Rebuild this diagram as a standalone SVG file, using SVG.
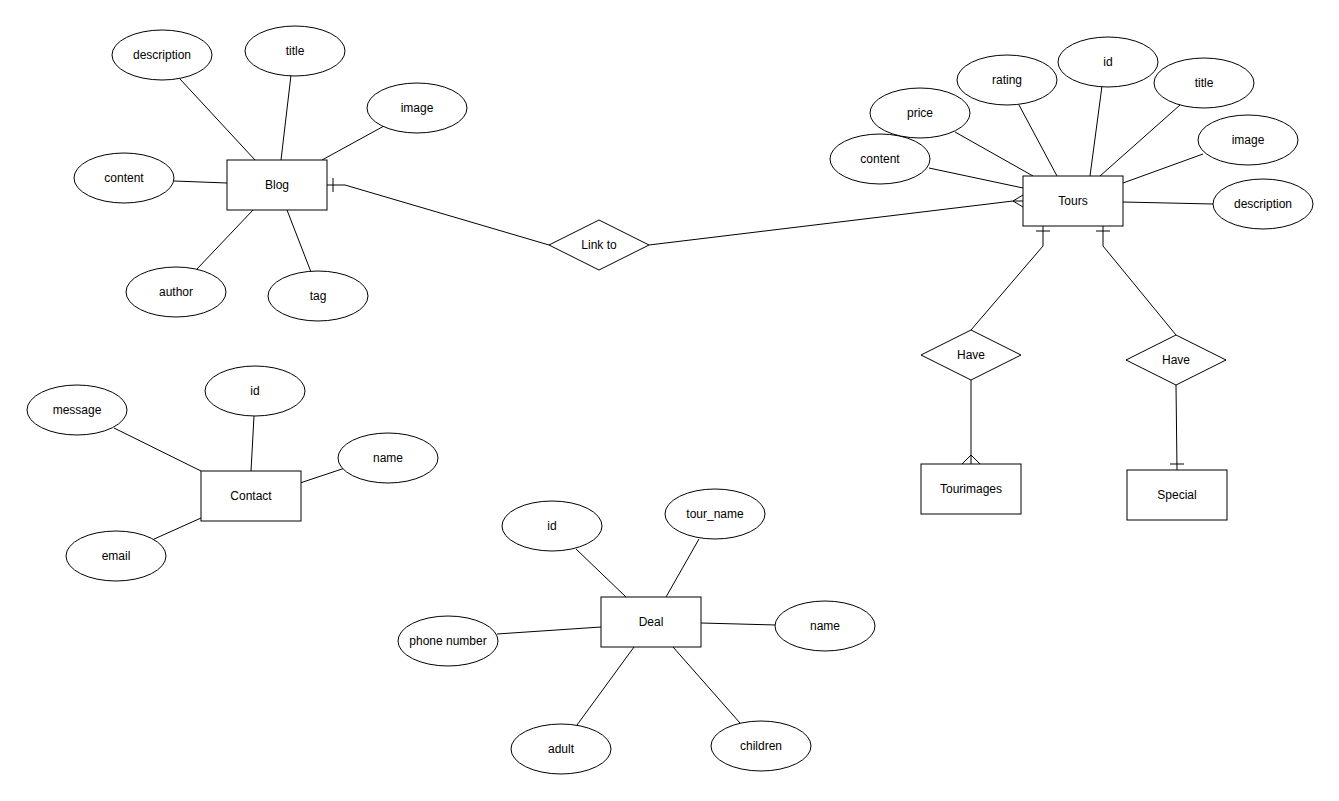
<svg xmlns="http://www.w3.org/2000/svg" width="1339" height="801" viewBox="0 0 1339 801">
<style>
ellipse,rect,polygon{fill:#fff;stroke:#000;stroke-width:1}
line,polyline{stroke:#000;stroke-width:1;fill:none}
text{font-family:"Liberation Sans",Arial,sans-serif;font-size:12px;text-anchor:middle;dominant-baseline:central;fill:#000}
</style>
<rect width="1339" height="801" style="fill:#fff;stroke:none"/>
<g id="connectors">
<line x1="180" y1="79" x2="255" y2="160"/><line x1="291" y1="75" x2="281" y2="160"/><line x1="384" y1="126" x2="322" y2="160"/>
<line x1="174" y1="181" x2="227" y2="183"/><line x1="197" y1="269" x2="253" y2="210"/><line x1="311" y1="272" x2="287" y2="210"/>
<polyline points="327,185 345,185 549,245"/><line x1="333" y1="178" x2="333" y2="192"/>
<polyline points="649,245 1013,201 1023,201"/><line x1="1013" y1="201" x2="1023" y2="195"/><line x1="1013" y1="201" x2="1023" y2="207"/>
<line x1="929" y1="168" x2="1023" y2="188"/><line x1="955" y1="132" x2="1033" y2="176"/><line x1="1019" y1="105" x2="1057" y2="176"/>
<line x1="1102" y1="86" x2="1090" y2="176"/><line x1="1180" y1="105" x2="1100" y2="176"/><line x1="1203" y1="154" x2="1123" y2="183"/>
<line x1="1123" y1="202" x2="1213" y2="204"/>
<polyline points="1043,226 1043,246 971,330"/><line x1="1036" y1="231" x2="1050" y2="231"/>
<polyline points="1103,226 1103,246 1176,335"/><line x1="1096" y1="231" x2="1110" y2="231"/>
<line x1="971" y1="380" x2="971" y2="464"/><line x1="971" y1="455" x2="962" y2="464"/><line x1="971" y1="455" x2="980" y2="464"/>
<line x1="1176" y1="385" x2="1177" y2="470"/><line x1="1170" y1="464" x2="1184" y2="464"/>
<line x1="114" y1="428" x2="201" y2="471"/><line x1="254" y1="416" x2="251" y2="471"/><line x1="345" y1="468" x2="300" y2="483"/><line x1="152" y1="540" x2="201" y2="518"/>
<line x1="576" y1="549" x2="626" y2="597"/><line x1="699" y1="539" x2="666" y2="597"/><line x1="701" y1="623" x2="776" y2="625"/>
<line x1="497" y1="634" x2="601" y2="627"/><line x1="577" y1="725" x2="634" y2="647"/><line x1="740" y1="723" x2="673" y2="647"/>
</g>
<g id="blog"><rect x="227" y="160" width="100" height="50"/><text x="277" y="185">Blog</text></g>
<g id="b-desc"><ellipse cx="162" cy="55" rx="50" ry="25"/><text x="162" y="55">description</text></g>
<g id="b-title"><ellipse cx="295" cy="51" rx="50" ry="25"/><text x="295" y="51">title</text></g>
<g id="b-image"><ellipse cx="417" cy="108" rx="50" ry="25"/><text x="417" y="108">image</text></g>
<g id="b-content"><ellipse cx="124" cy="178" rx="50" ry="25"/><text x="124" y="178">content</text></g>
<g id="b-author"><ellipse cx="176" cy="292" rx="50" ry="25"/><text x="176" y="292">author</text></g>
<g id="b-tag"><ellipse cx="318" cy="296" rx="50" ry="25"/><text x="318" y="296">tag</text></g>
<g id="link"><polygon points="549,245 599,220 649,245 599,270"/><text x="599" y="245">Link to</text></g>
<g id="tours"><rect x="1023" y="176" width="100" height="50"/><text x="1073" y="201">Tours</text></g>
<g id="t-content"><ellipse cx="880" cy="159" rx="50" ry="25"/><text x="880" y="159">content</text></g>
<g id="t-price"><ellipse cx="920" cy="113" rx="50" ry="25"/><text x="920" y="113">price</text></g>
<g id="t-rating"><ellipse cx="1007" cy="80" rx="50" ry="25"/><text x="1007" y="80">rating</text></g>
<g id="t-id"><ellipse cx="1108" cy="62" rx="50" ry="25"/><text x="1108" y="62">id</text></g>
<g id="t-title"><ellipse cx="1204" cy="83" rx="50" ry="25"/><text x="1204" y="83">title</text></g>
<g id="t-image"><ellipse cx="1248" cy="140" rx="50" ry="25"/><text x="1248" y="140">image</text></g>
<g id="t-desc"><ellipse cx="1263" cy="204" rx="50" ry="25"/><text x="1263" y="204">description</text></g>
<g id="have1"><polygon points="921,355 971,330 1021,355 971,380"/><text x="971" y="355">Have</text></g>
<g id="have2"><polygon points="1126,360 1176,335 1226,360 1176,385"/><text x="1176" y="360">Have</text></g>
<g id="tourimages"><rect x="921" y="464" width="100" height="50"/><text x="971" y="489">Tourimages</text></g>
<g id="special"><rect x="1127" y="470" width="100" height="50"/><text x="1177" y="495">Special</text></g>
<g id="contact"><rect x="201" y="471" width="100" height="50"/><text x="251" y="496">Contact</text></g>
<g id="c-message"><ellipse cx="77" cy="410" rx="50" ry="25"/><text x="77" y="410">message</text></g>
<g id="c-id"><ellipse cx="255" cy="391" rx="50" ry="25"/><text x="255" y="391">id</text></g>
<g id="c-name"><ellipse cx="388" cy="458" rx="50" ry="25"/><text x="388" y="458">name</text></g>
<g id="c-email"><ellipse cx="116" cy="556" rx="50" ry="25"/><text x="116" y="556">email</text></g>
<g id="deal"><rect x="601" y="597" width="100" height="50"/><text x="651" y="622">Deal</text></g>
<g id="d-id"><ellipse cx="552" cy="526" rx="50" ry="25"/><text x="552" y="526">id</text></g>
<g id="d-tour"><ellipse cx="715" cy="514" rx="50" ry="25"/><text x="715" y="514">tour_name</text></g>
<g id="d-name"><ellipse cx="825" cy="626" rx="50" ry="25"/><text x="825" y="626">name</text></g>
<g id="d-phone"><ellipse cx="448" cy="641" rx="50" ry="25"/><text x="448" y="641">phone number</text></g>
<g id="d-adult"><ellipse cx="561" cy="749" rx="50" ry="25"/><text x="561" y="749">adult</text></g>
<g id="d-children"><ellipse cx="761" cy="746" rx="50" ry="25"/><text x="761" y="746">children</text></g>
</svg>
